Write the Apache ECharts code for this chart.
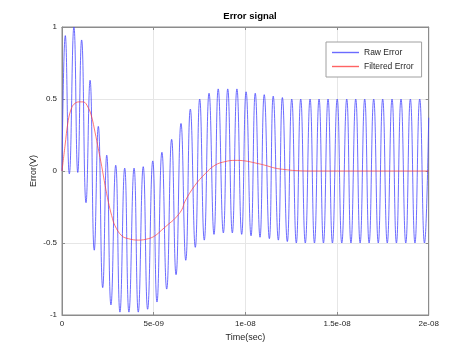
<!DOCTYPE html>
<html>
<head>
<meta charset="utf-8">
<script src="https://cdn.jsdelivr.net/npm/echarts@6/dist/echarts.min.js"></script>
<style>
html,body{margin:0;padding:0;background:#fff;}
#c{width:474px;height:355px;}
</style>
</head>
<body>
<div id="c"></div>
<script>
// Time values in nanoseconds (axis labels show seconds)
const rawTimeNs = [0, 0.18, 0.40, 0.65, 0.86, 1.07, 1.31, 1.53, 1.76, 1.98, 2.22, 2.44, 2.67, 2.93, 3.16, 3.42, 3.65, 3.93, 4.16, 4.43, 4.67, 4.95, 5.18, 5.45, 5.71, 5.98, 6.22, 6.49, 6.75, 7.00, 7.27, 7.51, 7.76, 8.02, 8.29, 8.52, 8.80, 9.04, 9.29, 9.54, 9.80, 10.04, 10.31, 10.54, 10.80, 11.03, 11.31, 11.52, 11.80, 12.02, 12.29, 12.53, 12.78, 13.02, 13.27, 13.53, 13.77, 14.02, 14.26, 14.51, 14.75, 15.01, 15.26, 15.53, 15.76, 16.02, 16.26, 16.51, 16.75, 17.00, 17.25, 17.49, 17.74, 18.00, 18.24, 18.49, 18.75, 19.00, 19.25, 19.51, 19.77, 20.0];
const rawError = [0, 0.94, -0.02, 1.00, -0.01, 0.91, -0.22, 0.63, -0.55, 0.31, -0.81, 0.11, -0.93, 0.04, -0.98, 0.02, -0.98, 0.02, -0.98, 0.03, -0.96, 0.07, -0.91, 0.13, -0.82, 0.22, -0.72, 0.33, -0.62, 0.43, -0.53, 0.50, -0.48, 0.54, -0.44, 0.57, -0.43, 0.57, -0.43, 0.57, -0.44, 0.55, -0.45, 0.54, -0.46, 0.53, -0.47, 0.52, -0.48, 0.51, -0.49, 0.50, -0.50, 0.50, -0.50, 0.50, -0.50, 0.50, -0.50, 0.50, -0.50, 0.50, -0.50, 0.50, -0.50, 0.50, -0.50, 0.50, -0.50, 0.50, -0.50, 0.50, -0.50, 0.50, -0.50, 0.50, -0.50, 0.50, -0.50, 0.50, -0.50, 0.37];
const filtTimeNs = [0, 0.16, 0.34, 0.53, 0.71, 0.93, 1.16, 1.43, 1.62, 1.80, 1.98, 2.17, 2.35, 2.53, 2.71, 2.89, 3.26, 3.62, 4.16, 4.71, 5.07, 5.44, 5.80, 6.16, 6.53, 6.71, 7.25, 7.80, 8.34, 8.89, 9.43, 9.98, 10.53, 11.07, 11.62, 12.16, 12.71, 13.53, 15.16, 17.34, 20.0];
const filtError = [0, 0.17, 0.35, 0.44, 0.47, 0.48, 0.48, 0.44, 0.375, 0.27, 0.155, 0.03, -0.10, -0.215, -0.31, -0.38, -0.45, -0.47, -0.48, -0.47, -0.45, -0.41, -0.37, -0.33, -0.27, -0.21, -0.10, -0.02, 0.04, 0.065, 0.074, 0.07, 0.056, 0.04, 0.02, 0.01, 0.003, 0, 0, 0, 0];
const xTicksNs = [0, 5, 10, 15, 20];
const yTicks = [-1, -0.5, 0, 0.5, 1];
const seriesNames = ['Raw Error', 'Filtered Error'];

function fmtSec(vNs) {
  if (Math.abs(vNs) < 1e-9) return '0';
  const s = (vNs * 1e-9).toExponential();
  let [m, e] = s.split('e');
  m = String(parseFloat(parseFloat(m).toFixed(3)));
  const neg = e[0] === '-';
  let ex = e.replace(/^[+-]/, '');
  if (ex.length < 2) ex = '0' + ex;
  return m + 'e' + (neg ? '-' : '+') + ex;
}

const rawData = rawTimeNs.map((t, i) => [t, rawError[i]]);
const filtData = filtTimeNs.map((t, i) => [t, filtError[i]]);

const FONT = '"Liberation Sans", Arial, sans-serif';
const axisGray = '#8c8c8c';
const labelCol = '#262626';
const blue = '#4646ff';
const red = '#ff3c3c';

const chart = echarts.init(document.getElementById('c'), null, {renderer: 'canvas'});
const tickCommon = {show: true, inside: true, length: 3, lineStyle: {color: axisGray, width: 1}};
chart.setOption({
  animation: false,
  backgroundColor: '#ffffff',
  title: {
    text: 'Error signal',
    left: 245, top: 6, textAlign: 'center',
    textStyle: {fontFamily: FONT, fontSize: 9.5, fontWeight: 'bold', color: '#000'}
  },
  legend: {
    data: [
      {name: seriesNames[0], icon: 'rect', itemStyle: {color: blue, borderWidth: 0, opacity: 0.8}},
      {name: seriesNames[1], icon: 'rect', itemStyle: {color: red, borderWidth: 0, opacity: 0.8}}
    ],
    orient: 'vertical',
    left: 326, top: 42,
    padding: [6, 8, 6, 6],
    itemGap: 5,
    itemWidth: 27, itemHeight: 1.4,
    itemStyle: {borderWidth: 0},
    backgroundColor: '#fff',
    borderColor: '#a0a0a0', borderWidth: 1, borderRadius: 0,
    textStyle: {fontFamily: FONT, fontSize: 8.5, color: labelCol, padding: [0, 0, 0, 0]}
  },
  grid: {left: 62, right: 45.3, top: 27, bottom: 40, show: true, borderColor: axisGray, borderWidth: 1, backgroundColor: 'transparent'},
  xAxis: [{
    type: 'value', min: xTicksNs[0], max: xTicksNs[xTicksNs.length - 1], interval: 5,
    name: 'Time(sec)', nameLocation: 'middle', nameGap: 18,
    nameTextStyle: {fontFamily: FONT, fontSize: 9, color: labelCol},
    axisLine: {show: true, onZero: false, lineStyle: {color: axisGray}},
    axisTick: tickCommon,
    axisLabel: {fontFamily: FONT, fontSize: 8, color: labelCol, margin: 5, formatter: fmtSec},
    splitLine: {show: true, lineStyle: {color: '#e6e6e6', width: 1}}
  }, {
    type: 'value', position: 'top', min: xTicksNs[0], max: xTicksNs[xTicksNs.length - 1], interval: 5,
    axisLine: {show: true, onZero: false, lineStyle: {color: axisGray}},
    axisTick: tickCommon, axisLabel: {show: false}, splitLine: {show: false}
  }],
  yAxis: [{
    type: 'value', min: yTicks[0], max: yTicks[yTicks.length - 1], interval: 0.5,
    name: 'Error(V)', nameLocation: 'middle', nameGap: 24, nameRotate: 90,
    nameMoveOverlap: false,
    nameTextStyle: {fontFamily: FONT, fontSize: 9, color: labelCol},
    axisLine: {show: true, onZero: false, lineStyle: {color: axisGray}},
    axisTick: tickCommon,
    axisLabel: {fontFamily: FONT, fontSize: 8, color: labelCol, margin: 5},
    splitLine: {show: true, lineStyle: {color: '#e6e6e6', width: 1}}
  }, {
    type: 'value', position: 'right', min: yTicks[0], max: yTicks[yTicks.length - 1], interval: 0.5,
    axisLine: {show: true, onZero: false, lineStyle: {color: axisGray}},
    axisTick: tickCommon, axisLabel: {show: false}, splitLine: {show: false}
  }],
  series: [{
    name: seriesNames[0], type: 'line', data: rawData,
    xAxisIndex: 0, yAxisIndex: 0,
    symbol: 'none', smooth: 0.5,
    lineStyle: {color: blue, width: 0.8},
    itemStyle: {color: blue}
  }, {
    name: seriesNames[1], type: 'line', data: filtData,
    xAxisIndex: 0, yAxisIndex: 0,
    symbol: 'none', smooth: 0.4,
    lineStyle: {color: red, width: 0.7},
    itemStyle: {color: red}
  }]
});
</script>
</body>
</html>
